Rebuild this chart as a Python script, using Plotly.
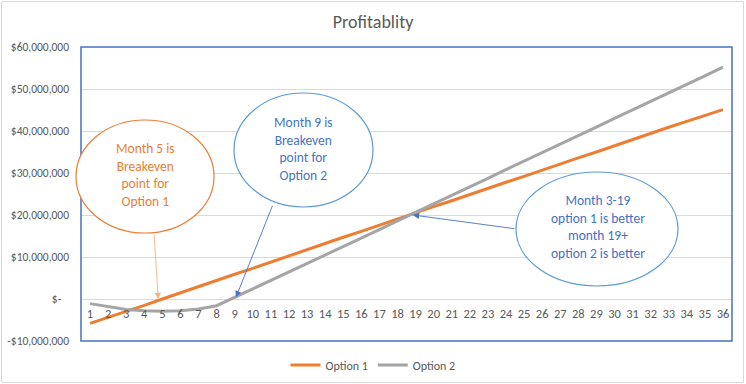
import plotly.graph_objects as go

months = list(range(1, 37))
option1 = [-5.8, -4.4, -2.9, -1.5, 0.0, 1.5, 2.9, 4.4, 5.9, 7.3, 8.8, 10.3, 11.8, 13.2, 14.7, 16.1, 17.6, 19.1,
           20.5, 22.0, 23.4, 24.9, 26.3, 27.8, 29.2, 30.7, 32.1, 33.6, 35.0, 36.5, 38.0, 39.4, 40.9, 42.3, 43.7, 45.1]
option2 = [-1.1, -1.8, -2.5, -2.8, -2.9, -2.8, -2.4, -1.6, 0.4, 2.4, 4.4, 6.4, 8.4, 10.5, 12.5, 14.5, 16.5, 18.6,
           20.6, 22.6, 24.7, 26.7, 28.7, 30.8, 32.8, 34.8, 36.9, 38.9, 40.9, 43.0, 45.0, 47.0, 49.1, 51.1, 53.1, 55.2]
option1 = [v * 1e6 for v in option1]
option2 = [v * 1e6 for v in option2]

y_ticks = [-10e6, 0, 10e6, 20e6, 30e6, 40e6, 50e6, 60e6]
y_labels = ["-$10,000,000", "$-\u00a0\u00a0\u00a0", "$10,000,000", "$20,000,000", "$30,000,000",
            "$40,000,000", "$50,000,000", "$60,000,000"]

FONT = "Carlito, Calibri, Lato, sans-serif"
ORANGE = "#ED7D31"
GRAY = "#A5A5A5"
BLUE_TXT = "#4472C4"
BLUE_LINE = "#5B9BD5"

fig = go.Figure()
fig.add_trace(go.Scatter(x=months, y=option1, mode="lines", name="Option 1",
                         line=dict(color=ORANGE, width=3)))
fig.add_trace(go.Scatter(x=months, y=option2, mode="lines", name="Option 2",
                         line=dict(color=GRAY, width=3)))

W, H = 746, 384
L, R, T, B = 81, 14, 47, 43
PW, PH = W - L - R, H - T - B


def px(x):
    return (x - L) / PW


def py(y):
    return (H - B - y) / PH


shapes = []
# outer chart border
shapes.append(dict(type="rect", xref="paper", yref="paper", x0=px(1.5), x1=px(743.5), y0=py(382.5), y1=py(1.5),
                   line=dict(color="#D9D9D9", width=1), layer="below"))
# plot area border
shapes.append(dict(type="rect", xref="paper", yref="paper", x0=0, x1=1, y0=0, y1=1,
                   line=dict(color=BLUE_TXT, width=1.5)))
# ellipses
ellipses = [
    ((76, 120, 214, 233), ORANGE),
    ((234, 93, 373, 207), BLUE_LINE),
    ((516, 172, 678, 286), BLUE_LINE),
]
for (x0, y0, x1, y1), c in ellipses:
    shapes.append(dict(type="circle", xref="paper", yref="paper", x0=px(x0), x1=px(x1), y0=py(y1), y1=py(y0),
                       line=dict(color=c, width=1.2), fillcolor="white"))

annotations = []
callouts = [
    (145, 175, "Month 5 is<br>Breakeven<br>point for<br>Option 1", ORANGE),
    (303.5, 149, "Month 9 is<br>Breakeven<br>point for<br>Option 2", BLUE_TXT),
    (597.5, 227, "Month 3-19<br>option 1 is better<br>month 19+<br>option 2 is better", BLUE_TXT),
]
for cx, cy, txt, c in callouts:
    annotations.append(dict(xref="paper", yref="paper", x=px(cx), y=py(cy), text=txt, showarrow=False,
                            font=dict(family=FONT, size=13.5, color=c), align="center",
                            xanchor="center", yanchor="middle"))

# arrows (head at data point, tail at the ellipse edge in pixels)
arrows = [
    (4.77, 0.0, 154, 233, "#F4B183"),
    (9.07, 0.4e6, 273, 204, BLUE_TXT),
    (18.85, 20.0e6, 516, 228, BLUE_TXT),
]
for hx, hy, tx, ty, c in arrows:
    head_px = 90 + (hx - 1) * (723 - 90) / 35
    head_py = 298.7 - hy / 1e7 * 42.3
    annotations.append(dict(xref="x", yref="y", x=hx, y=hy, text="", showarrow=True,
                            ax=tx - head_px, ay=ty - head_py, axref="pixel", ayref="pixel",
                            arrowhead=2, arrowsize=1.4, arrowwidth=0.9, arrowcolor=c))

fig.update_layout(
    width=W, height=H,
    margin=dict(l=L, r=R, t=T, b=B, autoexpand=False),
    paper_bgcolor="white", plot_bgcolor="white",
    font=dict(family=FONT, size=12, color="#595959"),
    title=dict(text="Profitablity", x=0.5, xref="container", xanchor="center",
               y=1 - 22 / H, yref="container", yanchor="middle",
               font=dict(family=FONT, size=18, color="#595959")),
    xaxis=dict(range=[0.5, 36.5], tickmode="array", tickvals=months, ticktext=[str(m) for m in months],
               showgrid=False, zeroline=False, showline=False, ticks="", automargin=False,
               ticklabelstandoff=5,
               anchor="free", position=1 / 7, tickfont=dict(family=FONT, size=12.5, color="#595959")),
    yaxis=dict(range=[-10e6, 60e6], tickmode="array", tickvals=y_ticks, ticktext=y_labels,
               showgrid=True, gridcolor="#D9D9D9", gridwidth=1, zeroline=True, zerolinecolor="#D9D9D9",
               zerolinewidth=1, showline=False, ticks="", ticklabelstandoff=11, automargin=False,
               tickfont=dict(family=FONT, size=11.5, color="#595959")),
    legend=dict(orientation="h", x=0.5, xref="container", xanchor="center",
                y=1 - 365 / H, yref="container", yanchor="middle",
                font=dict(family=FONT, size=12, color="#595959"), itemwidth=30),
    shapes=shapes,
    annotations=annotations,
)

fig.write_html("out.html", post_script="document.body.style.margin='0';",
               config={"displayModeBar": False})
